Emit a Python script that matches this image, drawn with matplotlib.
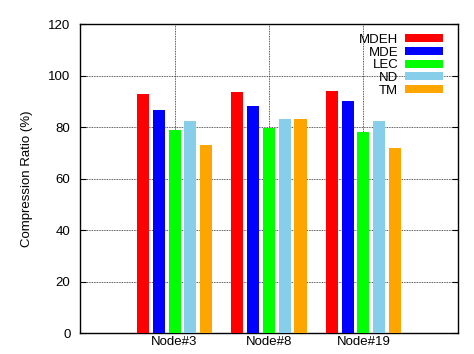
import matplotlib
matplotlib.use('Agg')
import matplotlib.pyplot as plt
import numpy as np

plt.rcParams['font.family'] = ['Liberation Sans', 'DejaVu Sans']

# data
nodes = ['Node#3', 'Node#8', 'Node#19']
methods = ['MDEH', 'MDE', 'LEC', 'ND', 'TM']
mdeh = [92.8, 93.5, 94.2]
mde = [86.5, 88.3, 90.2]
lec = [79.0, 79.7, 77.9]
nd = [82.2, 83.1, 82.2]
tm = [73.1, 83.1, 72.0]
colors = ['#ff0000', '#0000ff', '#00ff00', '#87ceeb', '#ffa500']

series = [mdeh, mde, lec, nd, tm]
x = np.arange(1, len(nodes) + 1)
pitch = 0.167
width = 0.128

fig = plt.figure(figsize=(4.74, 3.54), dpi=100)
ax = fig.add_axes([0.169, 0.059, 0.797, 0.873])

for i, (vals, c, name) in enumerate(zip(series, colors, methods)):
    ax.bar(x + (i - 2) * pitch, vals, width=width, color=c, label=name, zorder=3)

ax.set_xlim(0, 4)
ax.set_ylim(0, 120)
ax.set_xticks(x)
ax.set_xticklabels(nodes, fontsize=9.5)
ax.set_yticks(np.arange(0, 121, 20))
ax.tick_params(axis='y', labelsize=9.5, direction='in', right=True, length=4, pad=7)
ax.tick_params(axis='x', direction='in', length=0, pad=2)
ax.grid(True, color='#222222', linestyle=(0, (1, 1)), linewidth=0.6, zorder=0)
for s in ax.spines.values():
    s.set_linewidth(1.0)
ax.set_ylabel('Compression Ratio (%)', fontsize=9.5, labelpad=11)

leg = ax.legend(loc='upper right', bbox_to_anchor=(0.975, 0.985), frameon=False,
                markerfirst=False, fontsize=9.5, handlelength=2.9, handleheight=0.55,
                labelspacing=0.05, handletextpad=0.5, borderaxespad=0)

fig.savefig('out.png', dpi=100)
